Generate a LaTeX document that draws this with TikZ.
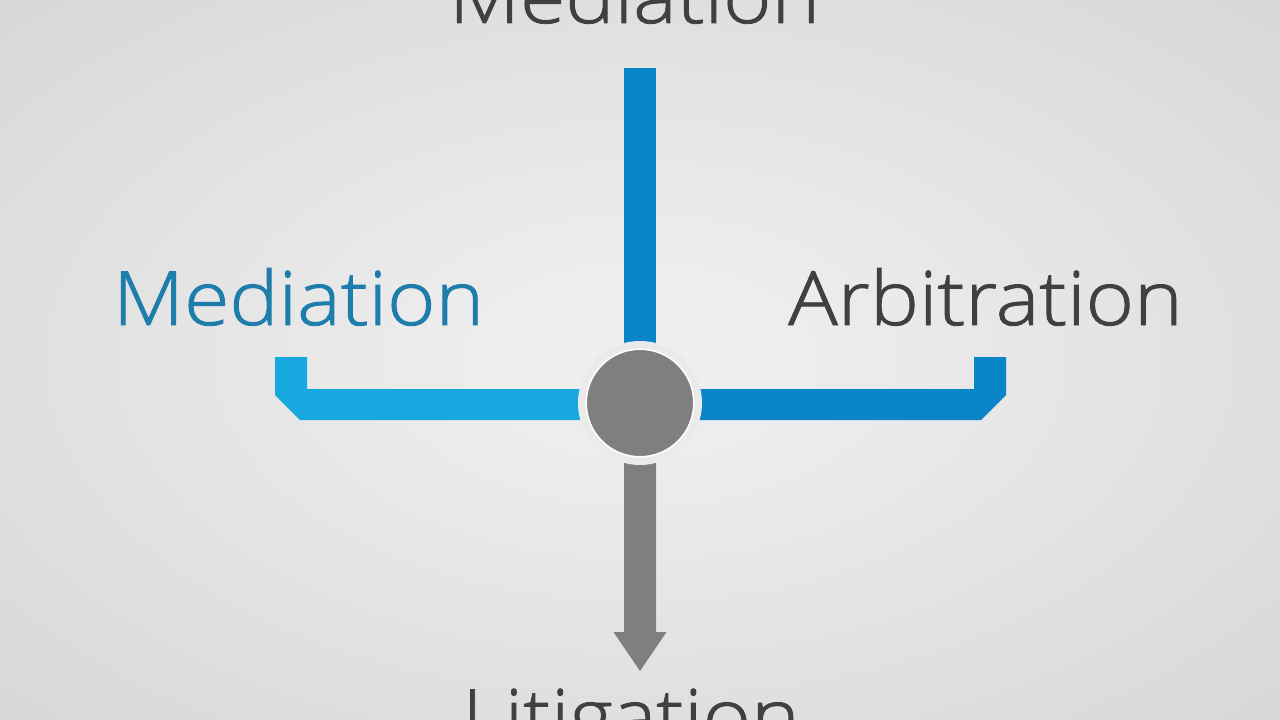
\documentclass[tikz,border=0pt]{standalone}
\usepackage{fontspec}
\setmainfont{Open Sans Light}[FakeStretch=1.1, FakeBold=1.2]
\definecolor{bgin}{RGB}{240,240,240}
\definecolor{bgmid}{RGB}{236,236,236}
\definecolor{bgout}{RGB}{204,204,204}
\definecolor{barblue}{RGB}{10,134,200}
\definecolor{barlight}{RGB}{24,168,224}
\definecolor{hubgray}{RGB}{127,127,127}
\definecolor{ringcol}{RGB}{234,234,234}
\definecolor{textgray}{RGB}{64,64,64}
\definecolor{textblue}{RGB}{30,125,171}
\pgfdeclareradialshading{bgshade}{\pgfpoint{0bp}{0bp}}{color(0bp)=(bgin); color(8bp)=(bgmid); color(50bp)=(bgout)}
\tikzset{
  lbl/.style={anchor=base, inner sep=0pt, font=\fontsize{75}{90}\selectfont},
  hubstyle/.style={circle, fill=hubgray, draw=ringcol, line width=9pt, minimum size=115pt, inner sep=0pt},
}
\begin{document}
\begin{tikzpicture}[x=1pt,y=-1pt]
\shade[shading=bgshade] (0,0) rectangle (1280,720);
\useasboundingbox (0,0) rectangle (1280,720);
\coordinate (c) at (640,403);
% bars beneath hub
\fill[barblue] (624,68) rectangle (656,403);
\fill[barlight] (640,389) -- (307,389) -- (307,357) -- (275,357) -- (275,395) -- (300,420) -- (640,420) -- cycle;
\fill[barblue] (640,389) -- (974,389) -- (974,357) -- (1006,357) -- (1006,395) -- (981,420) -- (640,420) -- cycle;
\fill[hubgray] (624,403) -- (656,403) -- (656,632) -- (666.5,632) -- (640,671) -- (613.5,632) -- (624,632) -- cycle;
% hub
\node[hubstyle] (hub) at (c) {};
\draw[white, line width=1.2pt] (hub.center) circle[radius=54pt];
% labels
\node[lbl, text=textgray] (top) at (634.5,23) {Mediation};
\node[lbl, text=textblue] (left) at (298.5,325) {Mediation};
\node[lbl, text=textgray] (right) at (985.5,325) {Arbitration};
\node[lbl, text=textgray] (bottom) at (631,743) {Litigation};
\end{tikzpicture}
\end{document}
